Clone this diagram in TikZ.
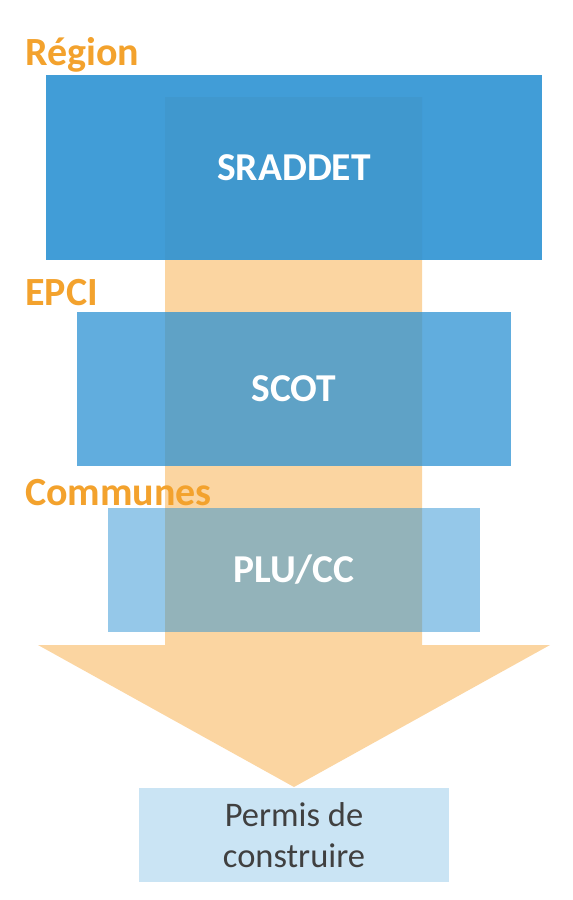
\documentclass[tikz,border=0pt]{standalone}
\usepackage{fontspec}
\setmainfont{Carlito}
\usetikzlibrary{positioning}

\definecolor{planblue}{RGB}{44,146,211}
\definecolor{peach}{RGB}{251,213,161}
\definecolor{levelorange}{RGB}{243,162,45}
\definecolor{permisgray}{RGB}{64,64,64}

\tikzset{
  planbox/.style={rectangle, fill=planblue, text=white, text opacity=1,
    inner sep=0pt, font=\fontsize{39.5}{44}\selectfont\bfseries},
  levellabel/.style={anchor=base west, inner sep=0pt, text=levelorange,
    font=\fontsize{40}{44}\selectfont\bfseries}
}

\begin{document}
\begin{tikzpicture}[x=1pt, y=-1pt]
\def\shaftL{165}
\def\shaftR{422}
\def\headY{645}
\useasboundingbox (0,0) rectangle (573,900);
\coordinate (ShaftTop) at (293.5,97);
\coordinate (Tip) at (294,787);

% big arrow behind the plans
\fill[peach] (\shaftL,97) -- (\shaftR,97) -- (\shaftR,\headY) -- (550,\headY)
  -- (Tip) -- (38,\headY) -- (\shaftL,\headY) -- cycle;

% plans, one per level
\node[planbox, fill opacity=0.9, minimum width=496pt, minimum height=185pt]
  (sraddet) at (294,167.5) {SRADDET};
\node[planbox, fill opacity=0.75, minimum width=434pt, minimum height=154pt]
  (scot) at (294,389) {SCOT};
\node[planbox, fill opacity=0.5, minimum width=372pt, minimum height=124pt]
  (plu) at (294,570) {PLU/CC};
\node[planbox, fill opacity=0.25, minimum width=310pt, minimum height=94pt,
  text=permisgray, align=center, font=\fontsize{34.5}{41}\selectfont]
  (permis) at (294,835) {Permis de\\construire};

% levels
\node[levellabel] (region) at (25,65) {Région};
\node[levellabel] (epci) at (25,305) {EPCI};
\node[levellabel] (communes) at (25,505) {Communes};
\end{tikzpicture}
\end{document}
